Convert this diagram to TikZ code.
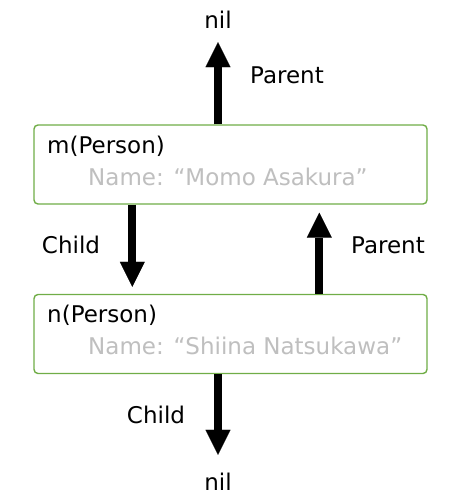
\documentclass[tikz,border=0pt]{standalone}
\usepackage{fontspec}
\setmainfont{DejaVu Sans}
\usepackage{xcolor}
\usepackage{tikz}
\usetikzlibrary{arrows.meta,calc}
\definecolor{boxgreen}{RGB}{112,173,71}
\definecolor{namegray}{RGB}{191,191,191}

\begin{document}
\begin{tikzpicture}[
  x=1pt, y=-1pt,
  font=\fontsize{23}{28}\selectfont,
  person/.style={draw=boxgreen, line width=1.4pt, rounded corners=4pt, fill=white, minimum width=393pt, minimum height=79pt, inner sep=0pt},
  title/.style={anchor=base west, inner sep=0pt},
  field/.style={anchor=base west, inner sep=0pt, text=namegray},
  tag/.style={anchor=base, inner sep=0pt},
  ptr/.style={line width=8pt, -{Triangle[width=25pt,length=25pt,line width=0.1pt]}}
]
\useasboundingbox (0,0) rectangle (474,504);
% the two person records
\node[person] (m) at (230.5,164.5) {};
\node[title] (mtitle) at (47,153) {m(Person)};
\node[field] (mfield) at (88,185) {Name: “Momo Asakura”};
\node[person] (n) at (230.5,334) {};
\node[title] (ntitle) at (47,322) {n(Person)};
\node[field] (nfield) at (88,354) {Name: “Shiina Natsukawa”};
% ends of the chain
\node[tag] (niltop) at (218,28) {nil};
\node[tag] (nilbot) at (218,490) {nil};
% pointers
\draw[ptr, shorten >=14pt] (niltop |- m.north) -- (niltop.south);
\draw[ptr, shorten >=7pt] ([xshift=99pt]m.south west) -- ([xshift=99pt]n.north west);
\draw[ptr, shorten >=8pt] ([xshift=286pt]n.north west) -- ([xshift=286pt]m.south west);
\draw[ptr, shorten >=17.5pt] (nilbot |- n.south) -- (nilbot.north);
\node[tag] (ptop) at (287,83) {Parent};
\node[tag] (cmid) at (71,253) {Child};
\node[tag] (pmid) at (388,253) {Parent};
\node[tag] (cbot) at (156,423) {Child};
\end{tikzpicture}
\end{document}
